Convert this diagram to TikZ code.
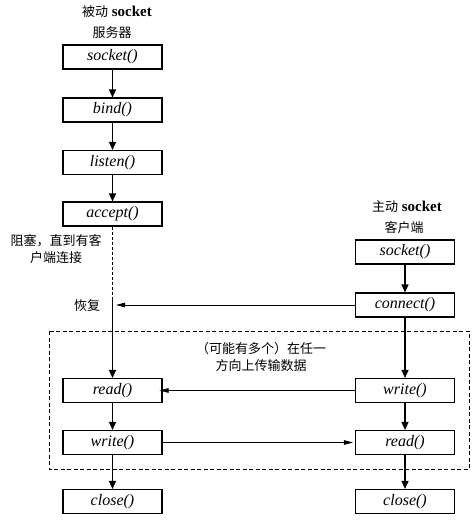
\documentclass[tikz,border=0pt]{standalone}
\usepackage{fontspec}
\setmainfont{Liberation Serif}
\newfontfamily\cjk{Noto Sans CJK SC}
\usetikzlibrary{arrows.meta}
\begin{document}
\begin{tikzpicture}[x=1pt,y=-1pt,
  fbox/.style={draw,line width=1.1pt,minimum width=99pt,minimum height=24pt,inner sep=0pt,font=\fontsize{16}{18}\selectfont\itshape},
  varr/.style={line width=1.2pt,-{Triangle[length=8pt,width=7pt]}},
  harr/.style={line width=0.8pt,-{Triangle[length=9pt,width=4.5pt]}},
  lbl/.style={font=\fontsize{13}{17}\selectfont\cjk,align=center,inner sep=0pt},
  ttl/.style={font=\fontsize{15}{16}\selectfont,inner sep=0pt}]
\useasboundingbox (0,0) rectangle (474,526);
\fill[white] (0,0) rectangle (474,526);
% titles
\node[ttl] (t1) at (117,12) {{\cjk\fontsize{13}{16}\selectfont 被动} \textbf{socket}};
\node[lbl] (t1b) at (112,33) {服务器};
\node[ttl] (t2) at (407,207) {{\cjk\fontsize{13}{16}\selectfont 主动} \textbf{socket}};
\node[lbl] (t2b) at (404,228) {客户端};
% left column
\node[fbox] (ls) at (112.5,57) {socket()};
\node[fbox] (lb) at (112.5,110) {bind()};
\node[fbox] (ll) at (112.5,162.5) {listen()};
\node[fbox] (la) at (112.5,214) {accept()};
\node[fbox] (lr) at (112.5,390.5) {read()};
\node[fbox] (lw) at (112.5,442.5) {write()};
\node[fbox] (lc) at (112.5,501.5) {close()};
% right column
\node[fbox] (rs) at (405,252) {socket()};
\node[fbox] (rc) at (405,305) {connect()};
\node[fbox] (rw) at (405,390.5) {write()};
\node[fbox] (rr) at (405,442.5) {read()};
\node[fbox] (rcl) at (405,501.5) {close()};
% labels
\node[lbl] (blk) at (56,249) {阻塞，直到有客\\户端连接};
\node[lbl] (res) at (87,306) {恢复};
\node[lbl] (dat) at (261,356.5) {（可能有多个）在任一\\方向上传输数据};
% dashed box
\draw[line width=1pt,dash pattern=on 4pt off 2.5pt] (49,331) rectangle (469,469);
% left arrows
\draw[varr] (ls) -- (lb);
\draw[varr] (lb) -- (ll);
\draw[varr] (ll) -- (la);
\coordinate (dend) at (112.5,300);
\coordinate (resume) at (116,305);
\draw[line width=1.2pt,dash pattern=on 3pt off 2pt] (la.south) -- (dend);
\draw[varr] (dend) -- (lr.north);
\draw[varr] (lr) -- (lw);
\draw[varr] (lw) -- (lc);
% right arrows
\draw[varr] (rs) -- (rc);
\draw[varr] (rc) -- (rw);
\draw[varr] (rw) -- (rr);
\draw[varr] (rr) -- (rcl);
% horizontal
\draw[harr] (rc.west) -- (resume);
\draw[harr] (rw.west) -- ([xshift=-3pt]lr.east);
\draw[harr] (lw.east) -- ([xshift=-2pt]rr.west);
\end{tikzpicture}
\end{document}
